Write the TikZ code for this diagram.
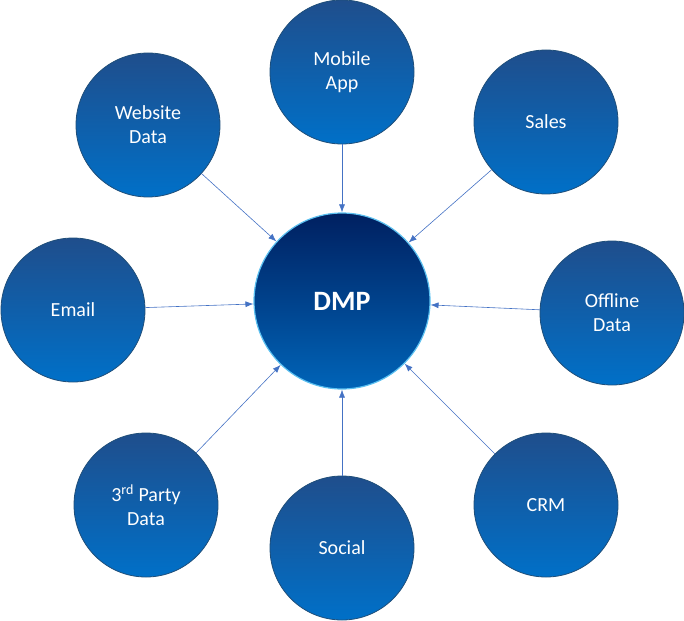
\documentclass[tikz,border=0pt]{standalone}
\usepackage{fontspec}
\setmainfont{Carlito}
\usetikzlibrary{arrows.meta}
\definecolor{otop}{HTML}{1F4E8C}
\definecolor{obot}{HTML}{0070C8}
\definecolor{oline}{HTML}{1F4E79}
\definecolor{dtop}{HTML}{002060}
\definecolor{dbot}{HTML}{0064B8}
\definecolor{dline}{HTML}{5BC0F0}
\definecolor{arr}{HTML}{4472C4}
\tikzset{
 src/.style={circle,minimum size=144pt,inner sep=0,draw=oline,line width=0.8pt,top color=otop,bottom color=obot,text=white,font=\fontsize{20}{24}\selectfont,align=center},
 hub/.style={circle,minimum size=176pt,inner sep=0,draw=dline,line width=1.2pt,top color=dtop,bottom color=dbot,text=white,font=\fontsize{28}{32}\selectfont\bfseries},
 link/.style={draw=arr,line width=0.6pt,-{Latex[length=8pt,width=6pt]}}
}
\begin{document}
\begin{tikzpicture}[x=1pt,y=-1pt]
\useasboundingbox (0,0) rectangle (684,620);
\node[hub] (d) at (342,301) {DMP};
\node[src] (m) at (342,72) {Mobile\\App};
\node[src] (w) at (148,125) {Website\\Data};
\node[src] (s) at (546,122) {Sales};
\node[src] (e) at (73,310) {Email};
\node[src] (o) at (612,313) {Offline\\Data};
\node[src] (t) at (146,505) {3\textsuperscript{rd} Party\\Data};
\node[src] (so) at (342,548) {Social};
\node[src] (c) at (546,505) {CRM};
\foreach \n in {m,w,s,e,o,t,so,c} \draw[link] (\n) -- (d);
\end{tikzpicture}
\end{document}
